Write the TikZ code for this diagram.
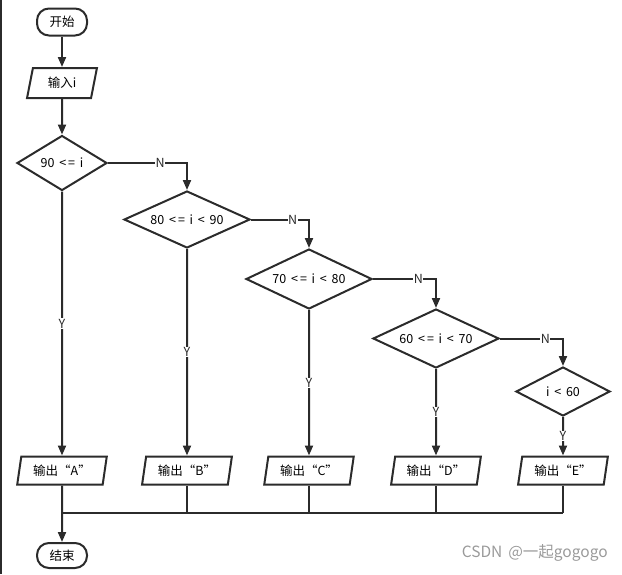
\documentclass[tikz,border=0pt]{standalone}
\usepackage{fontspec}
\setmainfont[WordSpace=1.7]{Noto Sans CJK SC}
\usetikzlibrary{arrows.meta, shapes.geometric}
\definecolor{cline}{HTML}{2B2B2B}
\definecolor{cmark}{HTML}{9A9A9A}
\tikzset{
  every picture/.style={x=1pt, y=-1pt, font=\fontsize{12.5}{14}\selectfont, line width=2pt, draw=cline},
  term/.style={draw=cline, rectangle, rounded corners=12pt, minimum width=50pt, minimum height=27pt, inner sep=0pt},
  io/.style={draw=cline, trapezium, trapezium left angle=76, trapezium right angle=104, trapezium stretches=true, minimum width=90pt, minimum height=28pt, inner sep=0pt},
  cond/.style={draw=cline, diamond, aspect=2.2, minimum width=#1, minimum height=57pt, inner sep=0pt},
  cond/.default=126pt,
  arrow/.style={-{Triangle[length=10pt, width=8pt]}, draw=cline, line width=2pt},
  link/.style={draw=cline, line width=1.6pt},
  lbl/.style={fill=white, inner sep=0.5pt, text=cline},
}

\begin{document}
\begin{tikzpicture}
  \useasboundingbox (0,0) rectangle (622,574);
  \draw[draw=cline, line width=1.5pt] (0.75,0) -- (0.75,574);
  \node[term] (start) at (62,22) {开始};
  \node[io, minimum width=70pt, minimum height=30pt] (input) at (62,83) {输入i};
  \node[cond=90pt, minimum height=55pt] (d90) at (62,163) {90 <\kern2pt= i};
  \node[cond] (d80) at (187,219.5) {80 <\kern2pt= i < 90};
  \node[cond, minimum height=60pt] (d70) at (309,279) {70 <\kern2pt= i < 80};
  \node[cond, minimum height=59pt] (d60) at (436,338.5) {60 <\kern2pt= i < 70};
  \node[cond=94pt, minimum height=49pt] (d0) at (563,391.5) {i < 60};
  \foreach \k/\x in {A/62, B/187, C/309, D/436, E/563}
    \node[io] (out\k) at (\x,470.5) {输出“\k”};
  \node[term, minimum height=25pt] (stop) at (62,555.5) {结束};
  \coordinate (m) at (62,513);

  \draw[arrow] (start) -- (input);
  \draw[arrow] (input) -- (d90);
  % no branch
  \draw[arrow] (d90.east) -- node[lbl, pos=0.66] {N} (d80.north |- d90.east) -- (d80.north);
  \draw[arrow] (d80.east) -- node[lbl, pos=0.72] {N} (d70.north |- d80.east) -- (d70.north);
  \draw[arrow] (d70.east) -- node[lbl, pos=0.72] {N} (d60.north |- d70.east) -- (d60.north);
  \draw[arrow] (d60.east) -- node[lbl, pos=0.72] {N} (d0.north |- d60.east) -- (d0.north);
  % yes branch
  \foreach \d/\k in {d90/A, d80/B, d70/C, d60/D, d0/E}
    \draw[arrow] (\d.south) -- node[lbl] {Y} (out\k.north);
  % merge
  \foreach \k in {B, C, D, E}
    \draw[link] (out\k.south) -- (out\k.south |- m);
  \draw[link] (m) -- (outE.south |- m);
  \draw[arrow] (outA.south) -- (stop.north);
  \node[text=cmark, font=\fontsize{15.5}{18}\selectfont, anchor=east] (mark) at (612,553) {CSDN @一起gogogo};
\end{tikzpicture}
\end{document}
